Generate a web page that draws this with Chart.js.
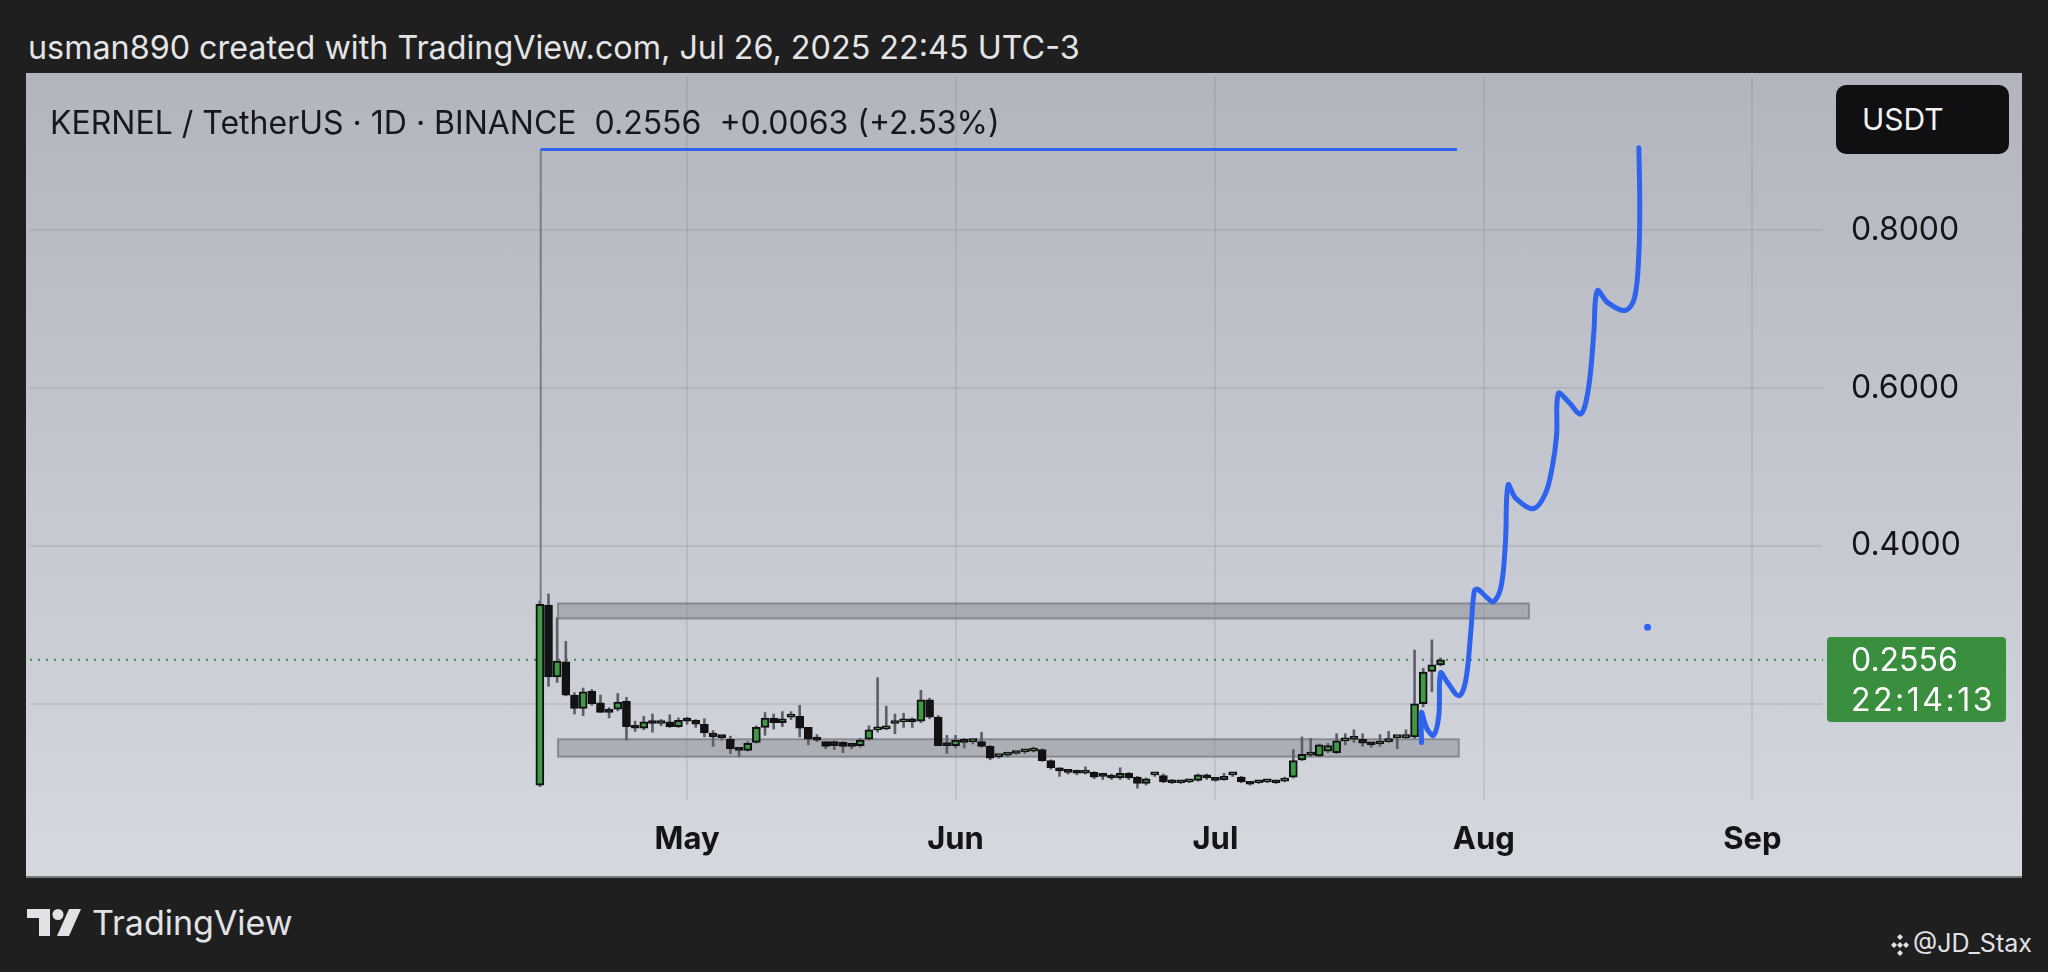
<!DOCTYPE html>
<html>
<head>
<meta charset="utf-8">
<script src="https://cdn.jsdelivr.net/npm/chart.js@4.4.1/dist/chart.umd.min.js"></script>
<style>
  html, body { margin: 0; padding: 0; background: #1f1f1f; width: 2048px; height: 972px; overflow: hidden; font-family: Inter, "Liberation Sans", sans-serif; }
  #title { position: absolute; left: 28px; top: 27px; font-size: 32.3px; line-height: 42px; color: #e4e4e6; white-space: pre; }
  #panel { position: absolute; left: 26px; top: 73px; width: 1996px; height: 803px; border-bottom: 2px solid #74767e; background: linear-gradient(#b2b5be, #d6d8e0); }
  #panel canvas { position: absolute; left: 0; top: 0; }
  #legend { position: absolute; left: 24px; top: 30px; font-size: 32px; line-height: 40px; color: #17181d; white-space: pre; }
  #unit { position: absolute; left: 1810px; top: 12px; width: 147px; height: 69px; padding-left: 26px; border-radius: 10px; background: #101012; color: #f2f2f2; font-size: 30px; line-height: 69px; }
  #tvlogo { position: absolute; left: 27px; top: 906px; color: #e2e2e6; font-size: 34px; line-height: 34px; }
  #tvlogo svg { position: absolute; left: 0; top: 3px; }
  #tvlogo span { position: absolute; left: 65px; top: 0; white-space: pre; }
  #author { position: absolute; left: 1891px; top: 928px; color: #e2e2e6; font-size: 25px; line-height: 30px; white-space: pre; }
  #author svg { vertical-align: -4px; margin-right: 4px; }
</style>
</head>
<body>
<div id="title">usman890 created with TradingView.com, Jul 26, 2025 22:45 UTC-3</div>
<div id="panel">
  <canvas id="chart" width="1996" height="803"></canvas>
  <div id="legend">KERNEL / TetherUS · 1D · BINANCE  0.2556  +0.0063 (+2.53%)</div>
  <div id="unit">USDT</div>
</div>
<div id="tvlogo">
  <svg width="54" height="27" viewBox="0 0 54 27"><path d="M0 0H23V27H12V9H0Z" fill="#e2e2e6"/><circle cx="31" cy="5.5" r="5.5" fill="#e2e2e6"/><path d="M42 0H54L42 27H30Z" fill="#e2e2e6"/></svg>
  <span>TradingView</span>
</div>
<div id="author"><svg width="18" height="22" viewBox="0 0 18 22"><path d="M9 0L12 3L9 6L6 3Z M3 8L6 11L3 14L0 11Z M15 8L18 11L15 14L12 11Z M9 16L12 19L9 22L6 19Z M9 8L12 11L9 14L6 11Z" fill="#e2e2e6"/></svg>@JD_Stax</div>

<script>
// daily candles, day 0 = Apr 14 2025
var opens = [
  0.097, 0.325, 0.234, 0.253, 0.211, 0.194, 0.216, 0.201, 0.192, 0.193,
  0.203, 0.172, 0.169, 0.178, 0.175, 0.177, 0.171, 0.179, 0.179, 0.174,
  0.163, 0.159, 0.155, 0.144, 0.141, 0.151, 0.170, 0.182, 0.176, 0.183,
  0.184, 0.170, 0.157, 0.152, 0.152, 0.151, 0.149, 0.147, 0.155, 0.167,
  0.168, 0.175, 0.177, 0.178, 0.178, 0.205, 0.183, 0.149, 0.147, 0.154,
  0.152, 0.152, 0.146, 0.133, 0.135, 0.137, 0.139, 0.140, 0.142, 0.128,
  0.117, 0.115, 0.113, 0.112, 0.113, 0.110, 0.109, 0.106, 0.112, 0.107,
  0.099, 0.110, 0.109, 0.101, 0.100, 0.101, 0.103, 0.110, 0.104, 0.104,
  0.110, 0.107, 0.100, 0.100, 0.101, 0.102, 0.102, 0.107, 0.129, 0.135,
  0.134, 0.140, 0.138, 0.153, 0.155, 0.155, 0.150, 0.149, 0.152, 0.157,
  0.157, 0.158, 0.200, 0.241, 0.2493
];
var highs = [
  0.330, 0.339, 0.309, 0.279, 0.214, 0.220, 0.218, 0.211, 0.195, 0.213,
  0.208, 0.178, 0.184, 0.187, 0.180, 0.186, 0.182, 0.183, 0.180, 0.181,
  0.166, 0.160, 0.159, 0.144, 0.152, 0.172, 0.189, 0.187, 0.190, 0.190,
  0.198, 0.170, 0.161, 0.152, 0.153, 0.152, 0.150, 0.156, 0.172, 0.233,
  0.197, 0.187, 0.188, 0.182, 0.217, 0.207, 0.185, 0.160, 0.160, 0.156,
  0.154, 0.164, 0.147, 0.136, 0.137, 0.140, 0.141, 0.145, 0.143, 0.129,
  0.119, 0.116, 0.116, 0.120, 0.114, 0.112, 0.111, 0.119, 0.113, 0.108,
  0.106, 0.112, 0.111, 0.104, 0.102, 0.103, 0.111, 0.111, 0.105, 0.112,
  0.112, 0.108, 0.101, 0.102, 0.103, 0.103, 0.107, 0.142, 0.158, 0.156,
  0.149, 0.150, 0.162, 0.162, 0.167, 0.162, 0.151, 0.161, 0.165, 0.158,
  0.167, 0.268, 0.245, 0.281, 0.2580
];
var lows = [
  0.095, 0.222, 0.227, 0.210, 0.187, 0.185, 0.198, 0.189, 0.182, 0.191,
  0.154, 0.165, 0.167, 0.164, 0.172, 0.170, 0.170, 0.174, 0.170, 0.158,
  0.146, 0.154, 0.137, 0.133, 0.140, 0.150, 0.160, 0.168, 0.171, 0.180,
  0.158, 0.148, 0.152, 0.143, 0.142, 0.138, 0.143, 0.145, 0.154, 0.164,
  0.167, 0.162, 0.170, 0.170, 0.176, 0.181, 0.147, 0.137, 0.144, 0.144,
  0.149, 0.145, 0.129, 0.131, 0.133, 0.136, 0.137, 0.139, 0.127, 0.117,
  0.108, 0.111, 0.110, 0.111, 0.105, 0.104, 0.104, 0.104, 0.104, 0.093,
  0.097, 0.108, 0.100, 0.099, 0.099, 0.100, 0.102, 0.104, 0.102, 0.103,
  0.108, 0.100, 0.097, 0.099, 0.100, 0.099, 0.101, 0.106, 0.128, 0.133,
  0.133, 0.138, 0.137, 0.148, 0.151, 0.146, 0.145, 0.146, 0.151, 0.143,
  0.156, 0.156, 0.196, 0.215, 0.2480
];
var closes = [
  0.326, 0.234, 0.254, 0.211, 0.194, 0.215, 0.200, 0.189, 0.189, 0.202,
  0.171, 0.169, 0.177, 0.175, 0.177, 0.171, 0.179, 0.178, 0.174, 0.163,
  0.158, 0.157, 0.143, 0.141, 0.150, 0.170, 0.182, 0.176, 0.181, 0.185,
  0.169, 0.155, 0.154, 0.146, 0.147, 0.146, 0.146, 0.154, 0.167, 0.169,
  0.172, 0.177, 0.178, 0.177, 0.205, 0.183, 0.147, 0.147, 0.154, 0.151,
  0.152, 0.146, 0.131, 0.134, 0.136, 0.139, 0.140, 0.142, 0.128, 0.119,
  0.115, 0.113, 0.112, 0.114, 0.107, 0.108, 0.106, 0.112, 0.106, 0.099,
  0.105, 0.111, 0.101, 0.100, 0.101, 0.102, 0.110, 0.106, 0.103, 0.108,
  0.111, 0.101, 0.098, 0.101, 0.102, 0.100, 0.106, 0.128, 0.136, 0.136,
  0.148, 0.147, 0.153, 0.155, 0.155, 0.150, 0.148, 0.151, 0.156, 0.158,
  0.158, 0.200, 0.240, 0.2493, 0.2556
];
var lastPrice = 0.2556;

// month ticks (day index from Apr 14)
var monthTicks = [17, 48, 78, 109, 140];
var monthLabels = ['May', 'Jun', 'Jul', 'Aug', 'Sep'];
var priceTicks = [0.2, 0.4, 0.6, 0.8];

// hand drawn projection (day index, price)
var pathDays = [101.8, 101.8, 102.4, 103.2, 103.8, 104.0, 104.8, 106.1, 106.9, 107.5, 107.9, 108.3, 109.3, 110.1, 111.0, 111.5, 111.8, 112.7, 114.7, 116.1, 116.9, 117.4, 117.6, 118.8, 120.2, 121.1, 121.7, 122.1, 123.3, 125.3, 126.4, 126.9, 127.0, 126.9];
var pathPrices = [0.151, 0.189, 0.169, 0.160, 0.185, 0.239, 0.227, 0.210, 0.229, 0.292, 0.343, 0.345, 0.335, 0.329, 0.349, 0.406, 0.477, 0.460, 0.447, 0.466, 0.500, 0.540, 0.593, 0.582, 0.567, 0.601, 0.670, 0.723, 0.708, 0.698, 0.714, 0.771, 0.834, 0.904];
var targetPrice = 0.902;
var targetDays = [0.1, 105.9];
var markerDay = 127.9;
var markerPrice = 0.297;

// support / resistance boxes
var zoneStart = [2.1, 2.1];
var zoneEnd = [114.2, 106.1];
var zoneLow = [0.308, 0.133];
var zoneHigh = [0.327, 0.155];

var X_MIN = -58.87, X_MAX = 148.16;
var Y_MIN = 0.0781, Y_MAX = 0.9937;

var bodies = [], wicks = [], bodyColors = [];
for (var i = 0; i < opens.length; i++) {
  bodies.push({x: i, y: [opens[i], closes[i]]});
  wicks.push({x: i, y: [lows[i], highs[i]]});
  bodyColors.push(closes[i] >= opens[i] ? '#3f9b43' : '#121214');
}
var path = pathDays.map(function(d, i) { return {x: d, y: pathPrices[i]}; });

var zonesPlugin = {
  id: 'zones',
  beforeDatasetsDraw: function(chart) {
    var ctx = chart.ctx, xs = chart.scales.x, ys = chart.scales.y;
    ctx.save();
    for (var i = 0; i < zoneStart.length; i++) {
      var x0 = xs.getPixelForValue(zoneStart[i]), x1 = xs.getPixelForValue(zoneEnd[i]);
      var y0 = ys.getPixelForValue(zoneHigh[i]), y1 = ys.getPixelForValue(zoneLow[i]);
      ctx.fillStyle = 'rgba(128,130,137,0.45)';
      ctx.fillRect(x0, y0, x1 - x0, y1 - y0);
      ctx.strokeStyle = 'rgba(118,120,127,0.75)';
      ctx.lineWidth = 2;
      ctx.strokeRect(x0, y0, x1 - x0, y1 - y0);
    }
    ctx.restore();
  }
};

var priceLabelPlugin = {
  id: 'priceLabel',
  afterDraw: function(chart) {
    var ctx = chart.ctx, ys = chart.scales.y, area = chart.chartArea;
    var y = Math.round(ys.getPixelForValue(lastPrice));
    var left = area.right + 4, top = y - 23;
    ctx.save();
    ctx.fillStyle = '#3a8f3e';
    ctx.beginPath();
    ctx.roundRect(left, top, 179, 85, 4);
    ctx.fill();
    ctx.fillStyle = '#ffffff';
    ctx.font = '32px Inter';
    ctx.textBaseline = 'middle';
    ctx.fillText(lastPrice.toFixed(4), area.right + 28, y + 1);
    ctx.letterSpacing = '2.5px';
    ctx.fillText('22:14:13', area.right + 28, y + 41);
    ctx.restore();
  }
};

new Chart(document.getElementById('chart'), {
  type: 'bar',
  data: {
    datasets: [
      {
        type: 'line',
        data: [{x: X_MIN, y: lastPrice}, {x: X_MAX, y: lastPrice}],
        borderColor: '#3b8a45',
        borderWidth: 2,
        borderDash: [2, 6],
        pointRadius: 0,
        order: 6
      },
      {
        data: wicks,
        backgroundColor: '#5e6068',
        barThickness: 2,
        grouped: false,
        order: 5
      },
      {
        data: bodies,
        backgroundColor: bodyColors,
        borderColor: '#111113',
        borderWidth: 2,
        borderSkipped: false,
        barThickness: 8,
        minBarLength: 3,
        grouped: false,
        order: 4
      },
      {
        type: 'line',
        data: [{x: targetDays[0], y: targetPrice}, {x: targetDays[0], y: zoneHigh[0]}],
        borderColor: '#7b7d85',
        borderWidth: 2,
        pointRadius: 0,
        order: 3
      },
      {
        type: 'line',
        data: [{x: targetDays[0], y: targetPrice}, {x: targetDays[1], y: targetPrice}],
        borderColor: '#2e63ee',
        borderWidth: 3,
        pointRadius: 0,
        order: 2
      },
      {
        type: 'line',
        data: path,
        borderColor: '#2e63ee',
        borderWidth: 5,
        borderCapStyle: 'round',
        borderJoinStyle: 'round',
        tension: 0.35,
        pointRadius: 0,
        order: 1
      },
      {
        type: 'line',
        data: [{x: markerDay, y: markerPrice}],
        showLine: false,
        pointRadius: 3.5,
        pointBorderWidth: 0,
        pointBackgroundColor: '#2e63ee',
        order: 1
      }
    ]
  },
  options: {
    responsive: false,
    animation: false,
    layout: { padding: 0 },
    plugins: {
      legend: { display: false },
      tooltip: { enabled: false }
    },
    scales: {
      x: {
        type: 'linear',
        min: X_MIN,
        max: X_MAX,
        offset: false,
        afterBuildTicks: function(scale) {
          scale.ticks = monthTicks.map(function(v) { return {value: v}; });
        },
        afterFit: function(scale) {
          scale.height = 76;
          scale.paddingLeft = 0;
          scale.paddingRight = 0;
        },
        grid: { offset: false, color: 'rgba(95,99,110,0.14)', lineWidth: 2, drawTicks: false },
        border: { display: false },
        ticks: {
          padding: 21,
          maxRotation: 0,
          autoSkip: false,
          color: '#131418',
          font: { family: 'Inter', size: 31, weight: '700' },
          callback: function(value) {
            var k = monthTicks.indexOf(value);
            return k >= 0 ? monthLabels[k] : '';
          }
        }
      },
      y: {
        position: 'right',
        min: Y_MIN,
        max: Y_MAX,
        afterBuildTicks: function(scale) {
          scale.ticks = priceTicks.map(function(v) { return {value: v}; });
        },
        afterFit: function(scale) {
          scale.width = 199;
          scale.paddingTop = 0;
          scale.paddingBottom = 0;
        },
        grid: { color: 'rgba(95,99,110,0.14)', lineWidth: 2, drawTicks: false },
        border: { display: false },
        ticks: {
          padding: 28,
          color: '#131418',
          font: { family: 'Inter', size: 32 },
          callback: function(value) {
            // the 0.2 label sits under the live price tag
            if (Math.abs(value - 0.2) < 1e-6) return '';
            return value.toFixed(4);
          }
        }
      }
    }
  },
  plugins: [zonesPlugin, priceLabelPlugin]
});
</script>
</body>
</html>
